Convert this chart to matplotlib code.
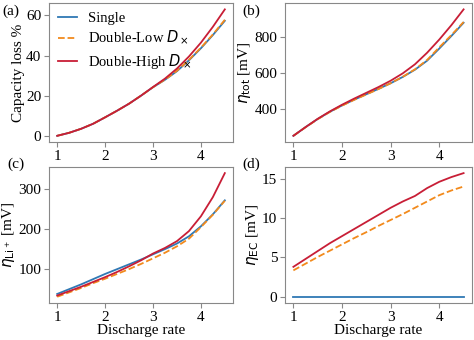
import matplotlib
matplotlib.use("Agg")
import matplotlib.pyplot as plt

plt.rcParams["font.family"] = ["Liberation Serif", "DejaVu Serif"]
plt.rcParams["mathtext.fontset"] = "dejavusans"

rate = [1.0, 1.25, 1.5, 1.75, 2.0, 2.25, 2.5, 2.75, 3.0, 3.25, 3.5, 3.75, 4.0, 4.25, 4.5]

# capacity loss [%]
cap_single = [0, 1.5, 3.5, 6.0, 9.2, 12.5, 16.0, 20.0, 24.2, 27.9, 32.2, 37.6, 43.6, 50.2, 57.3]
cap_low = [0, 1.5, 3.5, 6.0, 9.2, 12.5, 16.0, 20.0, 24.2, 28.0, 32.4, 37.8, 43.9, 50.5, 57.8]
cap_high = [0, 1.5, 3.5, 6.0, 9.2, 12.5, 16.0, 20.0, 24.3, 28.5, 33.5, 39.5, 46.4, 54.3, 63.0]

# total overpotential [mV]
tot_single = [252, 300, 345, 385, 420, 452, 482, 512, 543, 578, 618, 668, 735, 805, 878]
tot_low = [252, 299, 344, 384, 419, 451, 481, 511, 543, 579, 620, 672, 742, 810, 882]
tot_high = [252, 300, 346, 387, 424, 458, 490, 522, 557, 598, 648, 712, 785, 865, 952]

# Li+ overpotential [mV]
li_single = [38, 50, 62, 75, 88, 100, 112, 124, 137, 150, 164, 182, 207, 237, 272]
li_low = [31, 42, 53, 65, 76, 88, 100, 113, 127, 141, 157, 176, 205, 236, 271]
li_high = [34, 45, 56, 68, 80, 93, 107, 122, 139, 153, 170, 195, 232, 280, 340]

# electrolyte-contact overpotential [mV]
ec_single = [0] * 15
ec_low = [3.35, 4.2, 5.05, 5.85, 6.65, 7.45, 8.2, 9.0, 9.75, 10.5, 11.3, 12.1, 12.9, 13.5, 14.0]
ec_high = [3.8, 4.8, 5.8, 6.8, 7.7, 8.6, 9.5, 10.4, 11.3, 12.1, 12.8, 13.8, 14.6, 15.2, 15.7]

labels = ["Single", r"Double-Low $D_\times$", r"Double-High $D_\times$"]
colors = ["#2f78b4", "#f28a1c", "#c81e36"]
styles = ["-", "--", "-"]

ylabels = ["Capacity loss %", r"$\eta_{\rm tot}$ [mV]",
           r"$\eta_{\rm Li^+}$ [mV]", r"$\eta_{\rm EC}$ [mV]"]
panels = ["(a)", "(b)", "(c)", "(d)"]
series = [(cap_single, cap_low, cap_high), (tot_single, tot_low, tot_high),
          (li_single, li_low, li_high), (ec_single, ec_low, ec_high)]

fig = plt.figure(figsize=(4.74, 3.4), dpi=100)
boxes = [(0.103, 0.582, 0.389, 0.409), (0.601, 0.582, 0.395, 0.409),
         (0.103, 0.109, 0.389, 0.400), (0.601, 0.109, 0.395, 0.400)]
label_pos = [(0.005, 0.955), (0.512, 0.955), (0.015, 0.505), (0.512, 0.505)]

for i, box in enumerate(boxes):
    ax = fig.add_axes(box)
    for ys, lab, c, ls in zip(series[i], labels, colors, styles):
        ax.plot(rate, ys, ls, color=c, lw=1.3, label=lab)
    ax.set_xticks([1, 2, 3, 4])
    ax.set_ylabel(ylabels[i], fontsize=11, labelpad=1)
    for s in ax.spines.values():
        s.set_color("#888888")
    ax.tick_params(labelsize=11, color="#888888", length=3.5, pad=2)
    if i >= 2:
        ax.set_xlabel("Discharge rate", fontsize=11, labelpad=0)
    if i == 0:
        ax.legend(loc="upper left", frameon=False, fontsize=10.5,
                  handlelength=1.3, handletextpad=0.8, labelspacing=0.3,
                  borderaxespad=0.2)
    fig.text(label_pos[i][0], label_pos[i][1], panels[i], fontsize=11)

fig.savefig("out.png", dpi=100)
